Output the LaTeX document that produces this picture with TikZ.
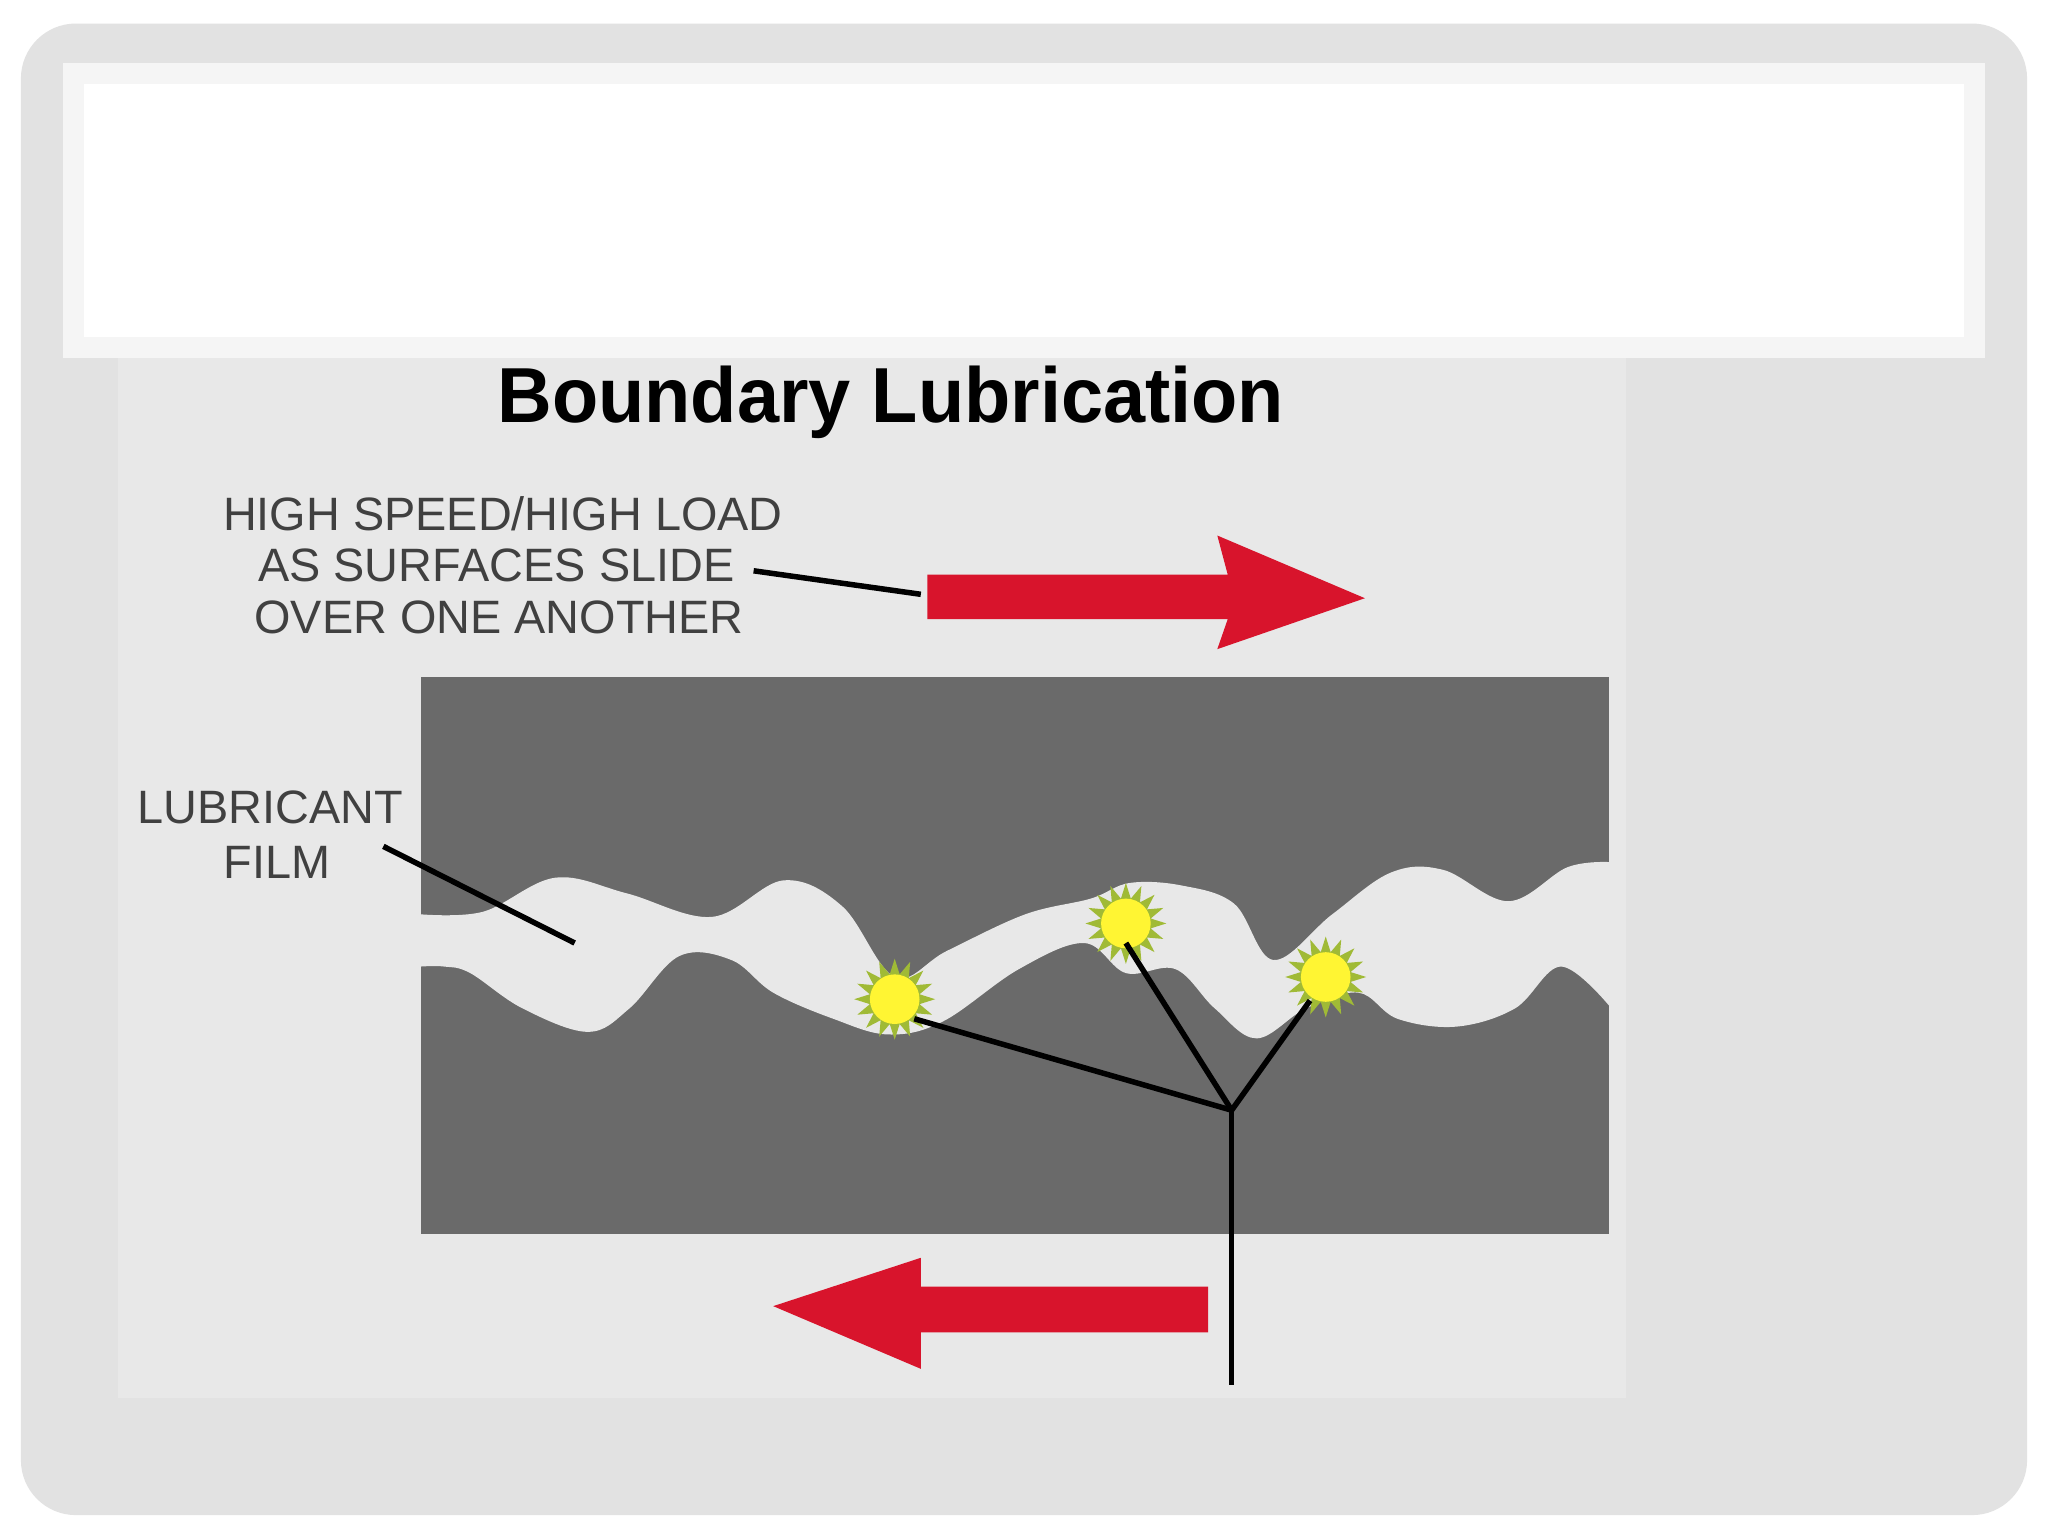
\documentclass[tikz,border=0pt]{standalone}
\usepackage{fontspec}
\setmainfont{Liberation Sans}
\usetikzlibrary{shapes.geometric}
\definecolor{bg}{HTML}{E2E2E2}
\definecolor{metal}{HTML}{6A6A6A}
\definecolor{arr}{HTML}{D8142C}
\definecolor{gap}{HTML}{E8E8E8}
\begin{document}
\begin{tikzpicture}[x=0.1mm,y=-0.1mm,
  lbl/.style={font=\fontsize{10.2}{11}\selectfont, text=black!75, inner sep=0pt},
  spark/.style={star, star points=16, star point ratio=1.6, minimum size=6.2mm, fill=yellow!70!green!80!black, inner sep=0pt},
  core/.style={circle, minimum size=3.8mm, fill=yellow!80!white, inner sep=0pt},
  lead/.style={line width=1.2pt, black}]
\useasboundingbox (0,0) rectangle (1568,1176);
\fill[white] (0,0) rectangle (1568,1176);
\fill[bg, rounded corners=12] (16,18) rectangle (1552,1160);
\fill[white!96!black] (48,48) rectangle (1520,274);
\fill[white] (64,64) rectangle (1504,258);
\fill[gap] (90,274) rectangle (1245,1070);
\node[font=\bfseries\fontsize{17}{20}\selectfont, xscale=0.97] (title) at (682,308) {Boundary Lubrication};
\node[lbl] (t1) at (385,393) {HIGH SPEED/HIGH LOAD};
\node[lbl] (t2) at (380,433) {AS SURFACES SLIDE};
\node[lbl] (t3) at (382,473) {OVER ONE ANOTHER};
\node[lbl] (l1) at (207,618) {LUBRICANT};
\node[lbl] (l2) at (212,660) {FILM};
% metal block
\fill[metal] (322,518) rectangle (1232,945);
% lubricant gap
\fill[gap] plot[smooth, tension=0.6] coordinates {(322,700) (370,698) (425,672) (480,684) (545,702) (600,674) (645,694) (685,748) (725,728) (785,700) (835,688) (865,676) (905,678) (945,692) (975,735) (1020,700) (1065,668) (1105,666) (1155,690) (1200,664) (1232,660)}
 -- plot[smooth, tension=0.6] coordinates {(1232,770) (1195,740) (1160,772) (1115,786) (1070,780) (1040,760) (1000,772) (962,795) (930,772) (900,742) (862,745) (830,722) (780,742) (722,782) (680,792) (638,780) (592,760) (560,735) (520,732) (482,772) (450,790) (400,772) (360,745) (340,740) (322,740)} -- cycle;
\fill[gap] (300,700) rectangle (322,740);
% sparks
\node[spark] (s1) at (685,765) {}; \node[core] at (s1) {};
\node[spark] (s2) at (862,707) {}; \node[core] at (s2) {};
\node[spark] (s3) at (1015,748) {}; \node[core] at (s3) {};
\coordinate (j) at (943,850);
\coordinate (jb) at (943,1060);
\draw[lead] (s1.center)++(15,15) -- (j);
\draw[lead] (s2.center)++(0,15) -- (j);
\draw[lead] (s3.center)++(-12,18) -- (j);
\draw[lead] (j) -- (jb);
% leaders
\coordinate (a1) at (705,455);
\coordinate (f1) at (440,722);
\draw[line width=1.2pt] (t2.east)++(14,4) -- (a1);
\draw[line width=1.2pt] (l2.east)++(40,-12) -- (f1);
% red arrows
\fill[arr] (710,440) -- (940,440) -- (932,410) -- (1045,458) -- (932,497) -- (940,474) -- (710,474) -- cycle;
\fill[arr] (925,985) -- (705,985) -- (705,963) -- (592,1000) -- (705,1048) -- (705,1020) -- (925,1020) -- cycle;
\end{tikzpicture}
\end{document}
